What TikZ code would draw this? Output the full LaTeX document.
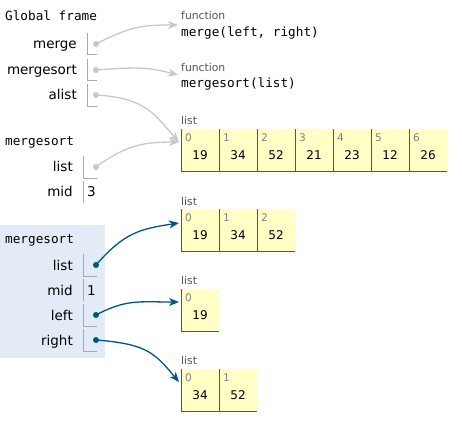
\documentclass[tikz,border=0pt]{standalone}
\usepackage{fontspec}
\setmainfont{DejaVu Sans}
\setsansfont{DejaVu Sans}
\setmonofont{DejaVu Sans Mono}
\usetikzlibrary{arrows.meta, calc, positioning}

\definecolor{framebg}{HTML}{E2EBF6}
\definecolor{cellbg}{HTML}{FFFFC6}
\definecolor{cellline}{HTML}{555555}
\definecolor{boxline}{HTML}{AAAAAA}
\definecolor{oldptr}{HTML}{C8C8C8}
\definecolor{newptr}{HTML}{005583}
\definecolor{tagtext}{HTML}{555555}
\definecolor{idxtext}{HTML}{808080}

\tikzset{
  ftitle/.style={anchor=base west, inner sep=0pt, font=\ttfamily\fontsize{12.7}{15}\selectfont},
  vname/.style={anchor=base east, inner sep=0pt, font=\fontsize{13.5}{16}\selectfont},
  vval/.style={anchor=base west, inner sep=0pt, font=\fontsize{13.5}{16}\selectfont},
  tag/.style={anchor=base west, inner sep=0pt, text=tagtext, font=\fontsize{10.8}{13}\selectfont},
  code/.style={anchor=base west, inner sep=0pt, font=\ttfamily\fontsize{12.7}{15}\selectfont},
  cell/.style={anchor=north west, fill=cellbg, inner sep=0pt, minimum width=38pt, minimum height=42pt},
  idx/.style={anchor=base west, inner sep=0pt, text=idxtext, font=\fontsize{10.5}{12}\selectfont},
  num/.style={anchor=base, inner sep=0pt, font=\fontsize{12}{14}\selectfont},
  vbox/.style={draw=boxline, line width=1pt},
  olddot/.style={circle, fill=oldptr, inner sep=0pt, minimum size=6pt},
  newdot/.style={circle, fill=newptr, inner sep=0pt, minimum size=6pt},
  oldarr/.style={draw=oldptr, line width=1.3pt, -{Stealth[length=10pt, width=8pt, inset=3pt]}},
  newarr/.style={draw=newptr, line width=1.3pt, -{Stealth[length=10pt, width=8pt, inset=3pt]}},
}

\begin{document}
\begin{tikzpicture}[x=1pt, y=-1pt]
    \useasboundingbox (0,0) rectangle (462,441);

    % 1. Global frame
    \node[ftitle] (gtitle) at (5,20.5) {Global frame};
    \node[vname] (gmerge) at (77,48.5) {merge};
    \node[vname] (gsort) at (77,74.5) {mergesort};
    \node[vname] (galist) at (77,99.5) {alist};
    \foreach \c in {44,70,95}
        \draw[vbox] (87,\c-11) -- (87,\c+11) -- (97,\c+11);
    \node[olddot] (gmerge-p) at (96,44) {};
    \node[olddot] (gsort-p) at (96,70) {};
    \node[olddot] (galist-p) at (96,95) {};

    % 2. first mergesort frame
    \node[ftitle] (m1title) at (5,145) {mergesort};
    \node[vname] (m1list) at (73,171.5) {list};
    \node[vname] (m1mid) at (73,196) {mid};
    \draw[vbox] (83,156) -- (83,178) -- (97,178);
    \draw[vbox] (83,181) -- (83,203);
    \node[vval] (m1mid-v) at (87,196) {3};
    \node[olddot] (m1list-p) at (96,167) {};

    % 3. current mergesort frame (highlighted)
    \fill[framebg] (0,225) rectangle (105,358);
    \node[ftitle] (m2title) at (5,243) {mergesort};
    \node[vname] (m2list) at (73,270) {list};
    \node[vname] (m2mid) at (73,295) {mid};
    \node[vname] (m2left) at (73,320) {left};
    \node[vname] (m2right) at (73,345) {right};
    \foreach \c in {265,315,340}
        \draw[vbox] (83,\c-11) -- (83,\c+11) -- (97,\c+11);
    \draw[vbox] (83,279) -- (83,301);
    \node[vval] (m2mid-v) at (87,295) {1};
    \node[newdot] (m2list-p) at (96,265) {};
    \node[newdot] (m2left-p) at (96,315) {};
    \node[newdot] (m2right-p) at (96,340) {};

    % 4. function objects
    \node[tag] (fun1-tag) at (181,20) {function};
    \node[code] (fun1) at (181,36.5) {merge(left, right)};
    \node[tag] (fun2-tag) at (181,72) {function};
    \node[code] (fun2) at (181,88) {mergesort(list)};
    \coordinate (fun1-in) at (178,25);
    \coordinate (fun2-in) at (178,75);

    % 5. lists
    \node[tag] (lstA-tag) at (181,124) {list};
    \foreach \v [count=\i from 0] in {19,34,52,21,23,12,26} {
        \node[cell] (lstA\i) at ({181+38*\i},129) {};
        \draw[cellline] (lstA\i.north west) -- (lstA\i.south west) -- (lstA\i.south east);
        \node[idx] at ({185+38*\i},141) {\i};
        \node[num] at ({200+38*\i},159) {\v};
    }
    \node[tag] (lstB-tag) at (181,205) {list};
    \foreach \v [count=\i from 0] in {19,34,52} {
        \node[cell] (lstB\i) at ({181+38*\i},209) {};
        \draw[cellline] (lstB\i.north west) -- (lstB\i.south west) -- (lstB\i.south east);
        \node[idx] at ({185+38*\i},221) {\i};
        \node[num] at ({200+38*\i},239) {\v};
    }
    \node[tag] (lstC-tag) at (181,284.5) {list};
    \foreach \v [count=\i from 0] in {19} {
        \node[cell] (lstC\i) at ({181+38*\i},289) {};
        \draw[cellline] (lstC\i.north west) -- (lstC\i.south west) -- (lstC\i.south east);
        \node[idx] at ({185+38*\i},301) {\i};
        \node[num] at ({200+38*\i},319) {\v};
    }
    \node[tag] (lstD-tag) at (181,364.5) {list};
    \foreach \v [count=\i from 0] in {34,52} {
        \node[cell] (lstD\i) at ({181+38*\i},369) {};
        \draw[cellline] (lstD\i.north west) -- (lstD\i.south west) -- (lstD\i.south east);
        \node[idx] at ({185+38*\i},381) {\i};
        \node[num] at ({200+38*\i},399) {\v};
    }
    \coordinate (lstA-in) at ($(lstA0.north west)+(-2,13)$);
    \coordinate (lstB-in) at ($(lstB0.north west)+(-2,14)$);
    \coordinate (lstC-in) at ($(lstC0.north west)+(-2,13)$);
    \coordinate (lstD-in) at ($(lstD0.north west)+(-2,13)$);

    % 6. pointers
    \draw[oldarr] (gmerge-p.center) .. controls +(35,-18) and +(-35,0) .. (fun1-in);
    \draw[oldarr] (gsort-p.center) .. controls +(40,-3) and +(-30,-8) .. (fun2-in);
    \draw[oldarr] (galist-p.center) .. controls +(50,3) and +(-25,-28) .. (lstA-in);
    \draw[oldarr] (m1list-p.center) .. controls +(30,-22) and +(-35,0) .. (lstA-in);
    \draw[newarr] (m2list-p.center) .. controls +(28,-32) and +(-40,6) .. (lstB-in);
    \draw[newarr] (m2left-p.center) .. controls +(30,-16) and +(-40,0) .. (lstC-in);
    \draw[newarr] (m2right-p.center) .. controls +(50,4) and +(-25,-30) .. (lstD-in);

\end{tikzpicture}
\end{document}
